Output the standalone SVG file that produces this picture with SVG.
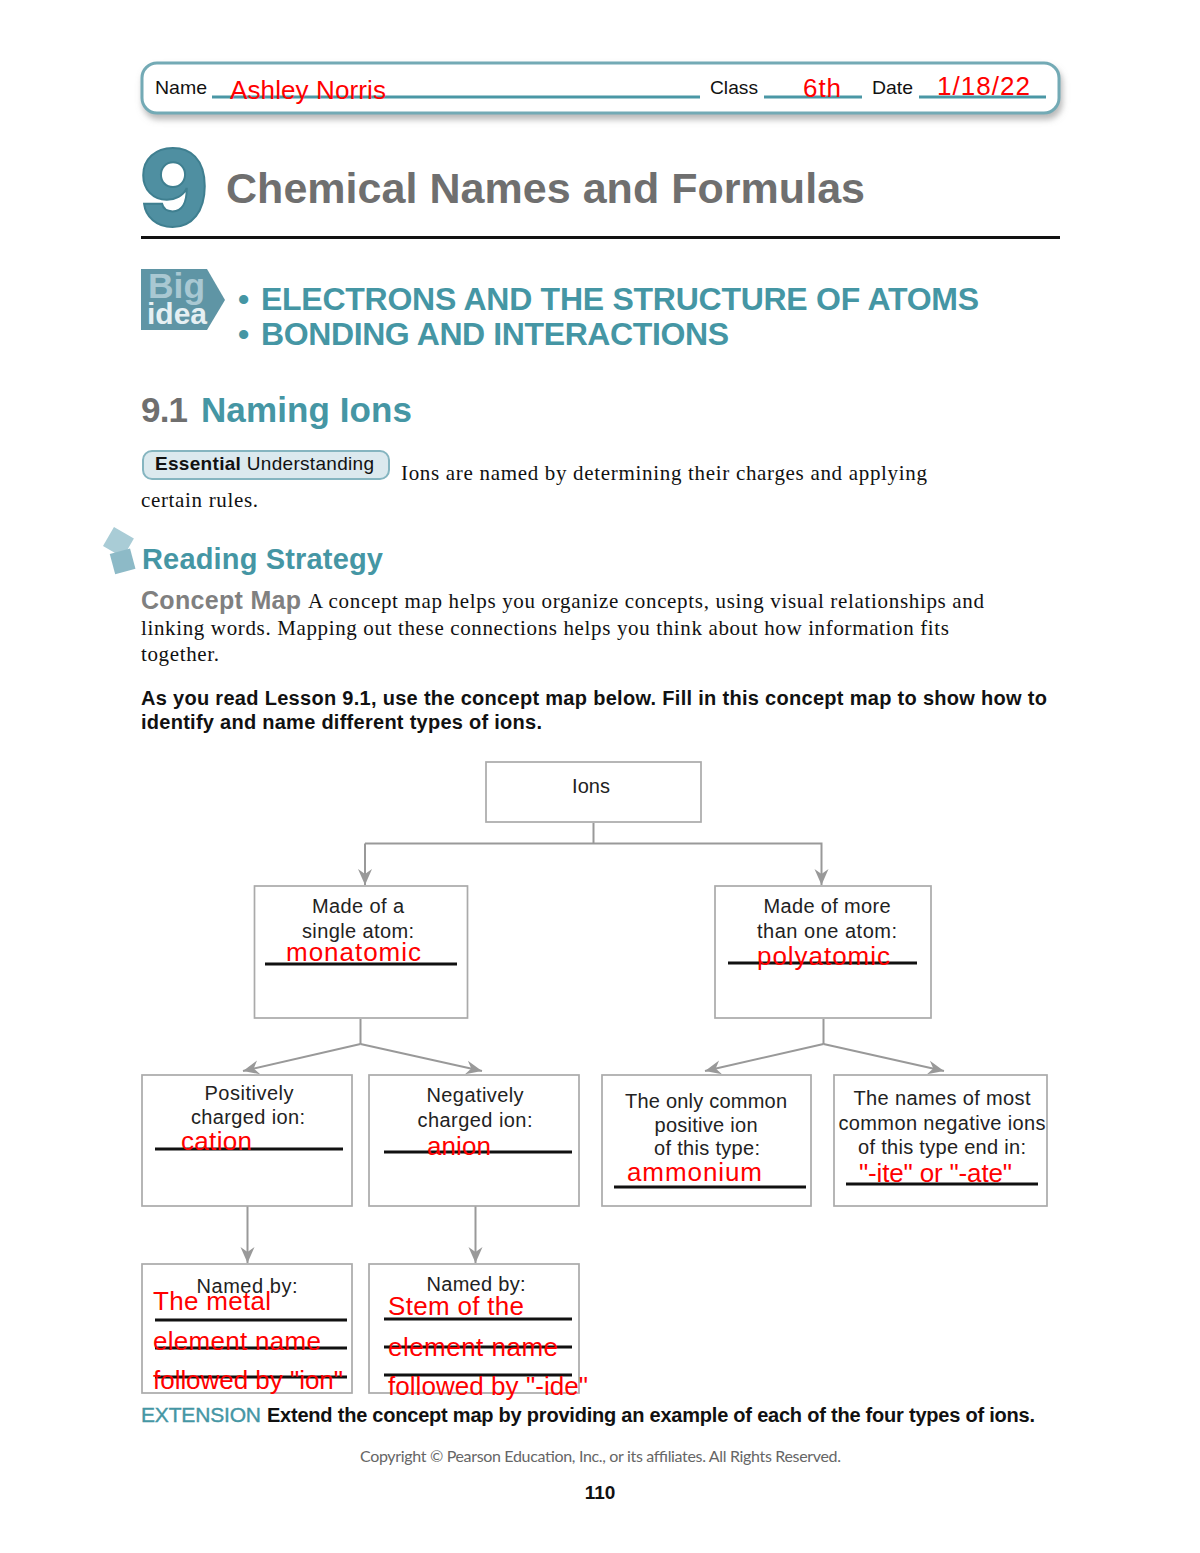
<svg xmlns="http://www.w3.org/2000/svg" width="1200" height="1553" viewBox="0 0 1200 1553">
<style>
text{font-family:"Liberation Sans",Arial,sans-serif}
.s{font-family:"Liberation Serif","Times New Roman",serif;font-size:21px;fill:#111}
.b{font-size:20px;fill:#222}
.r{fill:#f00;font-size:26px}
.box{fill:#fff;stroke:#aaa;stroke-width:1.700}
.u{stroke:#111;stroke-width:3;fill:none}
.tl{stroke:#4a97a5;stroke-width:3;fill:none}
.teal{fill:#4596a4;font-weight:700}
.c{stroke:#999;stroke-width:2;fill:none}
.m{text-anchor:middle}
</style>
<defs>
<marker id="a" markerUnits="userSpaceOnUse" markerWidth="18" markerHeight="16" refX="16" refY="8" orient="auto"><path d="M0 1L16 8L0 15L5 8Z" fill="#999"/></marker>
<filter id="sh" x="-5%" y="-30%" width="110%" height="170%"><feDropShadow dx="2" dy="5" stdDeviation="3" flood-color="#888" flood-opacity=".6"/></filter>
</defs>
<rect width="1200" height="1553" fill="#fff"/>
<g id="header">
<rect x="142" y="63" width="917" height="50" rx="15" fill="#fff" stroke="#73aab5" stroke-width="3" filter="url(#sh)"/>
<text x="155" y="94" font-size="19" fill="#111" textLength="52" lengthAdjust="spacingAndGlyphs">Name</text>
<path class="tl" d="M212 97H700M764 97H862M919 97H1046"/>
<text x="710" y="94" font-size="19" fill="#111" textLength="48" lengthAdjust="spacingAndGlyphs">Class</text>
<text x="872" y="94" font-size="19" fill="#111" textLength="41" lengthAdjust="spacingAndGlyphs">Date</text>
<text class="r" x="230" y="99" textLength="156">Ashley Norris</text>
<text class="r" x="803" y="97" textLength="38">6th</text>
<text class="r" x="937" y="95" textLength="93">1/18/22</text>
</g>
<g id="title">
<text x="139" y="226" font-size="106" font-weight="800" fill="#4f8fa1" stroke="#3f7f90" stroke-width="2" textLength="70" lengthAdjust="spacingAndGlyphs" style="font-family:Inter,'Liberation Sans',sans-serif">9</text>
<text x="226" y="203" font-size="43" font-weight="700" fill="#6f6f6f" textLength="639">Chemical Names and Formulas</text>
<path d="M141 237.500H1060" stroke="#111" stroke-width="3"/>
</g>
<g id="big-idea">
<path d="M141 269H207L225 300L207 330H141Z" fill="#5f95a5"/>
<text x="148" y="298" font-size="35" font-weight="700" fill="#a9c8d2" textLength="57" lengthAdjust="spacingAndGlyphs">Big</text>
<text x="147" y="324" font-size="29" font-weight="700" fill="#e6f0f3" textLength="60" lengthAdjust="spacingAndGlyphs">idea</text>
<text class="teal" x="238" y="310" font-size="32">•</text>
<text class="teal" x="261" y="310" font-size="32" textLength="718">ELECTRONS AND THE STRUCTURE OF ATOMS</text>
<text class="teal" x="238" y="345" font-size="32">•</text>
<text class="teal" x="261" y="345" font-size="32" textLength="468">BONDING AND INTERACTIONS</text>
</g>
<g id="section">
<text x="141" y="422" font-size="35" font-weight="700" fill="#6f6f6f" textLength="47">9.1</text>
<text class="teal" x="201" y="422" font-size="35" textLength="211">Naming Ions</text>
<rect x="143" y="451" width="246" height="28" rx="9" fill="#dbe9ee" stroke="#85b5c0" stroke-width="2"/>
<text x="155" y="470" font-size="19" fill="#111" textLength="219"><tspan font-weight="700">Essential</tspan> Understanding</text>
<text class="s" x="401" y="480" textLength="526">Ions are named by determining their charges and applying</text>
<text class="s" x="141" y="507" textLength="117">certain rules.</text>
</g>
<g id="reading-strategy">
<rect x="107" y="531" width="23" height="22" fill="#a9ccd6" transform="rotate(30 118 542)"/>
<rect x="112" y="551" width="21" height="21" fill="#8dbac7" transform="rotate(-15 122 561)"/>
<text class="teal" x="142" y="569" font-size="29" textLength="241">Reading Strategy</text>
<text x="141" y="609" font-size="25" font-weight="700" fill="#808080" textLength="160">Concept Map</text>
<text class="s" x="308" y="608" textLength="676">A concept map helps you organize concepts, using visual relationships and</text>
<text class="s" x="141" y="635" textLength="808">linking words. Mapping out these connections helps you think about how information fits</text>
<text class="s" x="141" y="661" textLength="78">together.</text>
<text x="141" y="705" font-size="20" font-weight="700" fill="#111" textLength="906">As you read Lesson 9.1, use the concept map below. Fill in this concept map to show how to</text>
<text x="141" y="729" font-size="20" font-weight="700" fill="#111" textLength="401">identify and name different types of ions.</text>
</g>
<g id="connectors">
<path class="c" d="M593.500 823V843"/>
<path class="c" d="M365 843.500H821.500V885" marker-end="url(#a)"/>
<path class="c" d="M365 843.500V885" marker-end="url(#a)"/>
<path class="c" d="M360.500 1019V1044"/>
<path class="c" d="M360.500 1044L243 1071" marker-end="url(#a)"/>
<path class="c" d="M360.500 1044L482 1071" marker-end="url(#a)"/>
<path class="c" d="M823.500 1019V1044"/>
<path class="c" d="M823.500 1044L705 1071" marker-end="url(#a)"/>
<path class="c" d="M823.500 1044L944 1071" marker-end="url(#a)"/>
<path class="c" d="M247.500 1206V1263" marker-end="url(#a)"/>
<path class="c" d="M475.500 1205V1263" marker-end="url(#a)"/>
</g>
<g id="node-ions"><rect class="box" x="486" y="762" width="215" height="60"/><text class="b m" x="591" y="793">Ions</text></g>
<g id="node-single">
<rect class="box" x="254.500" y="886" width="213" height="132"/>
<text class="b m" x="358" y="913" textLength="92">Made of a</text><text class="b m" x="358" y="938" textLength="112">single atom:</text>
<path class="u" d="M265 964H457"/><text class="r" x="286" y="961" textLength="135">monatomic</text>
</g>
<g id="node-multi">
<rect class="box" x="715" y="886" width="216" height="132"/>
<text class="b m" x="827" y="913" textLength="127">Made of more</text><text class="b m" x="827" y="938" textLength="140">than one atom:</text>
<path class="u" d="M728 963H917"/><text class="r" x="757" y="965" textLength="133">polyatomic</text>
</g>
<g id="node-positive">
<rect class="box" x="142" y="1075" width="210" height="131"/>
<text class="b m" x="249" y="1100" textLength="89">Positively</text><text class="b m" x="248" y="1124" textLength="114">charged ion:</text>
<path class="u" d="M155 1149H343"/><text class="r" x="181" y="1150" textLength="71">cation</text>
</g>
<g id="node-negative">
<rect class="box" x="369" y="1075" width="210" height="131"/>
<text class="b m" x="475" y="1102" textLength="97">Negatively</text><text class="b m" x="475" y="1127" textLength="115">charged ion:</text>
<path class="u" d="M384 1152H572"/><text class="r" x="427" y="1155" textLength="64">anion</text>
</g>
<g id="node-ammonium">
<rect class="box" x="602" y="1075" width="209" height="131"/>
<text class="b m" x="706" y="1108" textLength="162">The only common</text><text class="b m" x="706" y="1132" textLength="103">positive ion</text><text class="b m" x="707" y="1155" textLength="106">of this type:</text>
<path class="u" d="M614 1187H806"/><text class="r" x="627" y="1181" textLength="135">ammonium</text>
</g>
<g id="node-ending">
<rect class="box" x="834" y="1075" width="213" height="131"/>
<text class="b m" x="942" y="1105" textLength="177">The names of most</text><text class="b m" x="942" y="1130" textLength="207">common negative ions</text><text class="b m" x="942" y="1154" textLength="168">of this type end in:</text>
<path class="u" d="M846 1184H1038"/><text class="r" x="859" y="1182" textLength="153">"-ite" or "-ate"</text>
</g>
<g id="node-named-positive">
<rect class="box" x="142" y="1264" width="210" height="129"/>
<text class="b m" x="247" y="1293" textLength="101">Named by:</text>
<path class="u" d="M155 1320H347M155 1348H347M155 1377H347"/>
<text class="r" x="153" y="1310" textLength="118">The metal</text>
<text class="r" x="153" y="1350" textLength="168">element name</text>
<text class="r" x="153" y="1389" textLength="190">followed by "ion"</text>
</g>
<g id="node-named-negative">
<rect class="box" x="369" y="1264" width="210" height="129"/>
<text class="b m" x="476" y="1291" textLength="99">Named by:</text>
<path class="u" d="M384 1319H572M384 1347H572M384 1375H572"/>
<text class="r" x="388" y="1315" textLength="136">Stem of the</text>
<text class="r" x="388" y="1356" textLength="170">element name</text>
<text class="r" x="388" y="1395" textLength="200">followed by "-ide"</text>
</g>
<g id="footer">
<text x="141" y="1422" font-size="21" fill="#4596a4" textLength="120" stroke="#4596a4" stroke-width=".4">EXTENSION</text>
<text x="267" y="1422" font-size="20" font-weight="700" fill="#111" textLength="768">Extend the concept map by providing an example of each of the four types of ions.</text>
<text x="360" y="1462" font-size="16" fill="#666" textLength="481" style="font-family:Lato,'Liberation Sans',sans-serif">Copyright © Pearson Education, Inc., or its affiliates. All Rights Reserved.</text>
<text class="m" x="600" y="1499" font-size="19" font-weight="700" fill="#111">110</text>
</g>
</svg>
